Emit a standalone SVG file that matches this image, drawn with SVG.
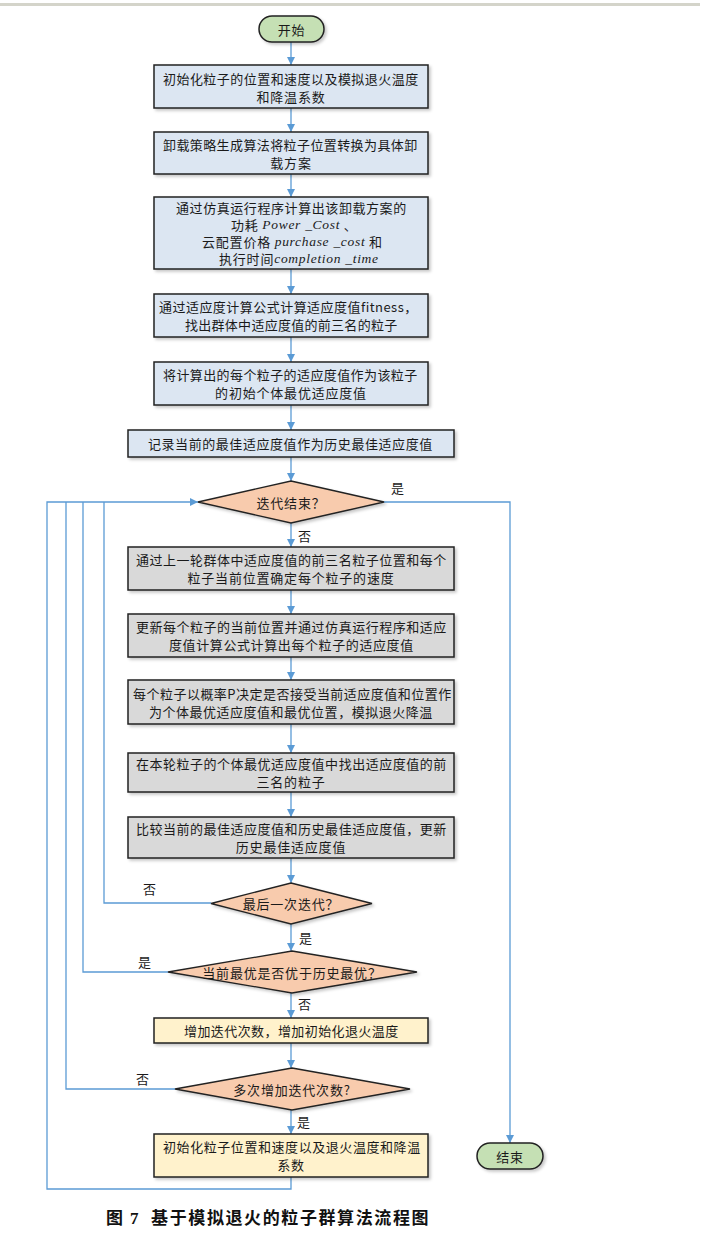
<svg xmlns="http://www.w3.org/2000/svg" width="704" height="1250" viewBox="0 0 704 1250">
  <style>
    .t { font-family: "Noto Sans CJK SC", "Liberation Sans", sans-serif; font-size: 13px; fill: #1a1a1a; letter-spacing: 0.8px; }
    .m { text-anchor: middle; }
    .it { font-family: "Liberation Serif", serif; font-style: italic; font-size: 13.5px; letter-spacing: 0.7px; }
    .lbl { font-family: "Noto Sans CJK SC", "Liberation Sans", sans-serif; font-size: 13px; fill: #1a1a1a; }
    .box { stroke: #222; stroke-width: 1.5; }
    .blue { fill: #dce6f2; }
    .gray { fill: #d9d9d9; }
    .yel { fill: #fff2cc; }
    .dia { fill: #f8cbad; stroke: #222; stroke-width: 1.3; }
    .term { fill: #c5e0b4; stroke: #222; stroke-width: 1.5; }
    .ln { fill: none; stroke: #5b9bd5; stroke-width: 1.3; }
    .cap { font-family: "Noto Sans CJK SC", "Liberation Serif", serif; font-size: 17px; font-weight: bold; fill: #111; letter-spacing: 1.6px; }
  </style>
  <defs>
    <marker id="ah" viewBox="0 0 10 10" refX="10" refY="5" markerWidth="8" markerHeight="8" markerUnits="userSpaceOnUse" orient="auto">
      <path d="M0,0 L10,5 L0,10 z" fill="#5b9bd5"/>
    </marker>
    <filter id="sh" x="-5%" y="-10%" width="115%" height="130%">
      <feDropShadow dx="2" dy="2" stdDeviation="1.5" flood-color="#000" flood-opacity="0.22"/>
    </filter>
  </defs>

  <!-- page header rule -->
  <rect x="0" y="3" width="700" height="3" fill="#d4d4ca"/>

  <!-- connectors -->
  <g id="connectors">
    <line class="ln" x1="291" y1="42" x2="291" y2="65" marker-end="url(#ah)"/>
    <line class="ln" x1="291" y1="108" x2="291" y2="132" marker-end="url(#ah)"/>
    <line class="ln" x1="291" y1="174" x2="291" y2="197" marker-end="url(#ah)"/>
    <line class="ln" x1="291" y1="269" x2="291" y2="294" marker-end="url(#ah)"/>
    <line class="ln" x1="291" y1="337" x2="291" y2="362" marker-end="url(#ah)"/>
    <line class="ln" x1="291" y1="405" x2="291" y2="430" marker-end="url(#ah)"/>
    <line class="ln" x1="291" y1="457" x2="291" y2="481" marker-end="url(#ah)"/>
    <line class="ln" x1="291" y1="523" x2="291" y2="547" marker-end="url(#ah)"/>
    <line class="ln" x1="291" y1="590" x2="291" y2="614" marker-end="url(#ah)"/>
    <line class="ln" x1="291" y1="657" x2="291" y2="680" marker-end="url(#ah)"/>
    <line class="ln" x1="291" y1="724" x2="291" y2="753" marker-end="url(#ah)"/>
    <line class="ln" x1="291" y1="792" x2="291" y2="817" marker-end="url(#ah)"/>
    <line class="ln" x1="291" y1="858" x2="291" y2="883" marker-end="url(#ah)"/>
    <line class="ln" x1="291" y1="924" x2="291" y2="951" marker-end="url(#ah)"/>
    <line class="ln" x1="291" y1="993" x2="291" y2="1018" marker-end="url(#ah)"/>
    <line class="ln" x1="291" y1="1043" x2="291" y2="1068" marker-end="url(#ah)"/>
    <line class="ln" x1="291" y1="1110" x2="291" y2="1134" marker-end="url(#ah)"/>
    <!-- exit to end -->
    <polyline class="ln" points="384,502 510,502 510,1143" marker-end="url(#ah)"/>
    <!-- loops back to the iteration check -->
    <polyline class="ln" points="211,903 104,903 104,502"/>
    <polyline class="ln" points="168,972 83,972 83,502"/>
    <polyline class="ln" points="175,1089 66,1089 66,502"/>
    <polyline class="ln" points="291,1177 291,1189 47,1189 47,502 198,502" marker-end="url(#ah)"/>
    <!-- branch labels -->
    <text class="lbl" x="391" y="493">是</text>
    <text class="lbl" x="298" y="541">否</text>
    <text class="lbl" x="143" y="894">否</text>
    <text class="lbl" x="299" y="943">是</text>
    <text class="lbl" x="138" y="967">是</text>
    <text class="lbl" x="298" y="1009">否</text>
    <text class="lbl" x="136" y="1084">否</text>
    <text class="lbl" x="297" y="1127">是</text>
  </g>

  <g id="start">
    <rect class="term" x="259" y="16" width="65" height="26" rx="13" filter="url(#sh)"/>
    <text class="t m" x="291.5" y="29" dominant-baseline="central">开始</text>
  </g>

  <g id="init">
    <rect class="box blue" x="154" y="65" width="274" height="43" filter="url(#sh)"/>
    <text class="t" x="163" y="78" dominant-baseline="central" textLength="256">初始化粒子的位置和速度以及模拟退火温度</text>
    <text class="t m" x="291" y="96" dominant-baseline="central">和降温系数</text>
  </g>

  <g id="strategy">
    <rect class="box blue" x="154" y="132" width="274" height="42" filter="url(#sh)"/>
    <text class="t" x="163" y="144" dominant-baseline="central" textLength="255">卸载策略生成算法将粒子位置转换为具体卸</text>
    <text class="t m" x="291" y="162" dominant-baseline="central">载方案</text>
  </g>

  <g id="simulate">
    <rect class="box blue" x="154" y="197" width="274" height="72" filter="url(#sh)"/>
    <text class="t" x="176" y="207" dominant-baseline="central" textLength="231">通过仿真运行程序计算出该卸载方案的</text>
    <text class="t" x="231" y="224" dominant-baseline="central">功耗 <tspan class="it">Power _Cost</tspan> 、</text>
    <text class="t" x="202" y="241" dominant-baseline="central">云配置价格 <tspan class="it">purchase _cost</tspan> 和</text>
    <text class="t" x="219" y="258" dominant-baseline="central">执行时间<tspan class="it">completion _time</tspan></text>
  </g>

  <g id="fitness">
    <rect class="box blue" x="154" y="294" width="274" height="43" filter="url(#sh)"/>
    <text class="t" x="159" y="306" dominant-baseline="central" textLength="259">通过适应度计算公式计算适应度值fitness，</text>
    <text class="t" x="185" y="324" dominant-baseline="central" textLength="213">找出群体中适应度值的前三名的粒子</text>
  </g>

  <g id="pbest-init">
    <rect class="box blue" x="154" y="362" width="274" height="43" filter="url(#sh)"/>
    <text class="t" x="163" y="374" dominant-baseline="central" textLength="255">将计算出的每个粒子的适应度值作为该粒子</text>
    <text class="t m" x="291" y="392" dominant-baseline="central">的初始个体最优适应度值</text>
  </g>

  <g id="gbest-init">
    <rect class="box blue" x="128" y="430" width="326" height="27" filter="url(#sh)"/>
    <text class="t" x="148" y="443.5" dominant-baseline="central" textLength="285">记录当前的最佳适应度值作为历史最佳适应度值</text>
  </g>

  <g id="iter-end">
    <polygon class="dia" points="291,481 384,502 291,523 198,502" filter="url(#sh)"/>
    <text class="t m" x="291" y="502" dominant-baseline="central">迭代结束？</text>
  </g>

  <g id="velocity">
    <rect class="box gray" x="128" y="547" width="326" height="43" filter="url(#sh)"/>
    <text class="t" x="136" y="559" dominant-baseline="central" textLength="311">通过上一轮群体中适应度值的前三名粒子位置和每个</text>
    <text class="t m" x="291" y="577" dominant-baseline="central">粒子当前位置确定每个粒子的速度</text>
  </g>

  <g id="update">
    <rect class="box gray" x="128" y="614" width="326" height="43" filter="url(#sh)"/>
    <text class="t" x="136" y="626" dominant-baseline="central" textLength="311">更新每个粒子的当前位置并通过仿真运行程序和适应</text>
    <text class="t" x="169" y="644" dominant-baseline="central" textLength="245">度值计算公式计算出每个粒子的适应度值</text>
  </g>

  <g id="accept">
    <rect class="box gray" x="128" y="680" width="326" height="44" filter="url(#sh)"/>
    <text class="t" x="133" y="693" dominant-baseline="central" textLength="319">每个粒子以概率P决定是否接受当前适应度值和位置作</text>
    <text class="t" x="149" y="711" dominant-baseline="central" textLength="284">为个体最优适应度值和最优位置，模拟退火降温</text>
  </g>

  <g id="top3">
    <rect class="box gray" x="128" y="753" width="326" height="39" filter="url(#sh)"/>
    <text class="t" x="136" y="763" dominant-baseline="central" textLength="311">在本轮粒子的个体最优适应度值中找出适应度值的前</text>
    <text class="t m" x="291" y="781" dominant-baseline="central">三名的粒子</text>
  </g>

  <g id="compare">
    <rect class="box gray" x="128" y="817" width="326" height="41" filter="url(#sh)"/>
    <text class="t" x="136" y="828" dominant-baseline="central" textLength="311">比较当前的最佳适应度值和历史最佳适应度值，更新</text>
    <text class="t m" x="291" y="846" dominant-baseline="central">历史最佳适应度值</text>
  </g>

  <g id="last-iter">
    <polygon class="dia" points="291,883 372,903.5 291,924 211,903.5" filter="url(#sh)"/>
    <text class="t m" x="291" y="903.5" dominant-baseline="central">最后一次迭代？</text>
  </g>

  <g id="better">
    <polygon class="dia" points="292,951 417,972 292,993 168,972" filter="url(#sh)"/>
    <text class="t m" x="292" y="972" dominant-baseline="central">当前最优是否优于历史最优？</text>
  </g>

  <g id="increase">
    <rect class="box yel" x="154" y="1018" width="274" height="25" filter="url(#sh)"/>
    <text class="t" x="184" y="1030.5" dominant-baseline="central" textLength="215">增加迭代次数，增加初始化退火温度</text>
  </g>

  <g id="many-increase">
    <polygon class="dia" points="292,1068 410,1089 292,1110 175,1089" filter="url(#sh)"/>
    <text class="t m" x="292" y="1089" dominant-baseline="central">多次增加迭代次数?</text>
  </g>

  <g id="reinit">
    <rect class="box yel" x="154" y="1134" width="274" height="43" filter="url(#sh)"/>
    <text class="t" x="163" y="1146" dominant-baseline="central" textLength="258">初始化粒子位置和速度以及退火温度和降温</text>
    <text class="t m" x="291" y="1164" dominant-baseline="central">系数</text>
  </g>

  <g id="end">
    <rect class="term" x="477" y="1143" width="66" height="26" rx="13" filter="url(#sh)"/>
    <text class="t m" x="510" y="1156" dominant-baseline="central">结束</text>
  </g>

  <text class="cap" x="106" y="1224" xml:space="preserve">图 <tspan font-family="Liberation Serif, serif">7</tspan>  基于模拟退火的粒子群算法流程图</text>
</svg>
